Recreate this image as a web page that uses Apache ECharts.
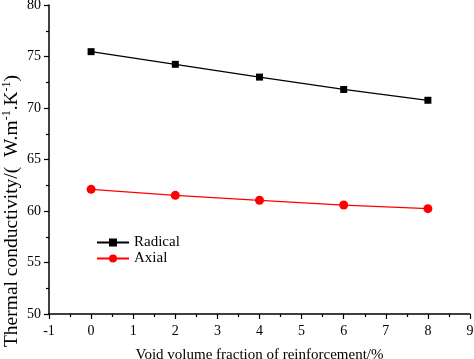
<!DOCTYPE html>
<html><head><meta charset="utf-8">
<script src="https://cdn.jsdelivr.net/npm/echarts@6/dist/echarts.min.js"></script>
<style>html,body{margin:0;padding:0;background:#fff}#c{width:474px;height:359px}</style>
</head><body><div id="c"></div>
<script>
var xValues = [0, 2, 4, 6, 8];
var radical = [75.47, 74.24, 73.0, 71.8, 70.75];
var axial = [62.1, 61.52, 61.04, 60.58, 60.23];
var seriesNames = ['Radical', 'Axial'];

var chart = echarts.init(document.getElementById('c'));
var font = 'Liberation Serif';
function pairs(ys){ return xValues.map(function(x,i){ return [x, ys[i]]; }); }
chart.setOption({
  animation: false,
  textStyle: {fontFamily: font},
  grid: {left: 49, right: 4, top: 5, bottom: 45, containLabel: false, outerBoundsMode: 'none'},
  legend: {
    orient: 'vertical', left: 96, top: 235, padding: 0, itemWidth: 32, itemHeight: 10, itemGap: 1,
    textStyle: {fontFamily: font, fontSize: 15, color: '#000'},
    data: seriesNames
  },
  xAxis: {
    type: 'value', min: -1, max: 9, interval: 1,
    name: 'Void volume fraction of reinforcement/%', nameLocation: 'middle', nameGap: 34,
    nameTextStyle: {fontFamily: font, fontSize: 15, color: '#000'},
    axisLine: {onZero: false, lineStyle: {color: '#000', width: 1.5}},
    axisTick: {length: 5, lineStyle: {color: '#000', width: 1.2}},
    minorTick: {show: true, splitNumber: 2, length: 3, lineStyle: {color: '#000', width: 1.2}},
    axisLabel: {fontFamily: font, fontSize: 14, color: '#000', margin: 10},
    splitLine: {show: false}
  },
  yAxis: {
    type: 'value', min: 50, max: 80, interval: 5,
    axisLine: {show: true, onZero: false, lineStyle: {color: '#000', width: 1.5}},
    axisTick: {show: true, length: 5, lineStyle: {color: '#000', width: 1.2}},
    minorTick: {show: true, splitNumber: 2, length: 3, lineStyle: {color: '#000', width: 1.2}},
    axisLabel: {fontFamily: font, fontSize: 14, color: '#000', margin: 8},
    splitLine: {show: false}
  },
  graphic: [{
    type: 'text', x: 11, y: 211, rotation: Math.PI/2,
    style: {
      text: '{n|Thermal conductivity/(  W.m}{s|-1}{n|.K}{s|-1}{n|)}',
      fontFamily: font, fill: '#000', align: 'center', verticalAlign: 'middle',
      rich: {
        n: {fontFamily: font, fontSize: 19.5, fill: '#000', verticalAlign: 'bottom'},
        s: {fontFamily: font, fontSize: 12, fill: '#000', verticalAlign: 'top', padding: [0,0,9,0]}
      }
    },
    silent: true
  }],
  series: [{
    name: seriesNames[0], type: 'line', data: pairs(radical),
    symbol: 'rect', symbolSize: 7,
    itemStyle: {color: '#000'}, lineStyle: {color: '#000', width: 1.3}
  }, {
    name: seriesNames[1], type: 'line', data: pairs(axial),
    symbol: 'circle', symbolSize: 9,
    itemStyle: {color: '#f00'}, lineStyle: {color: '#f00', width: 1.3}
  }]
});
</script></body></html>
